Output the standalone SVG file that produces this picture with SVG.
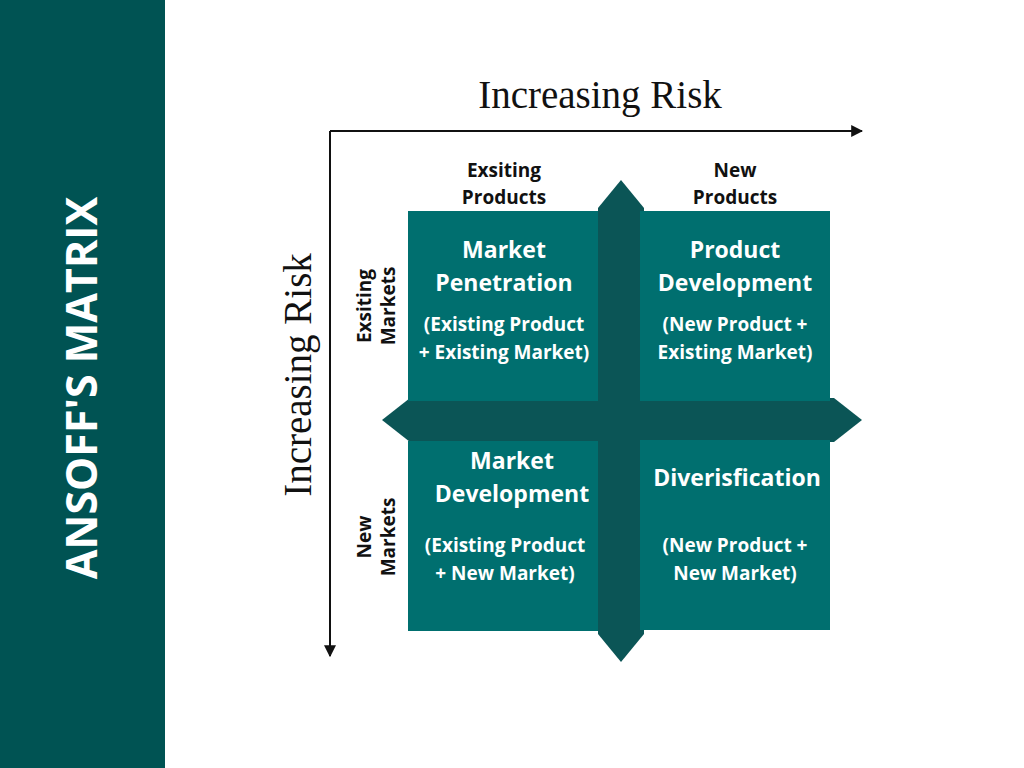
<svg xmlns="http://www.w3.org/2000/svg" width="1024" height="768" viewBox="0 0 1024 768">
<defs>
<style>
.q{fill:#006f6f}
.c{fill:#0b5556}
.t{font-family:"Open Sans","Liberation Sans",sans-serif;font-weight:bold;fill:#fff;text-anchor:middle}
.l{font-family:"Open Sans","Liberation Sans",sans-serif;font-weight:bold;fill:#111;text-anchor:middle;font-size:19px}
.s{font-family:"Liberation Serif",serif;fill:#111;font-size:39px;text-anchor:middle}
.ax{stroke:#111;stroke-width:2;fill:none}
</style>
<marker id="ah" viewBox="0 0 10 10" refX="9" refY="5" markerWidth="6" markerHeight="6" orient="auto"><path d="M0,0L10,5L0,10z" fill="#111"/></marker>
</defs>
<rect width="1024" height="768" fill="#fff"/>
<rect x="0" y="0" width="165" height="768" fill="#005353"/>
<text class="t" font-size="43" transform="translate(97,388) rotate(-90)">ANSOFF'S MATRIX</text>
<text class="s" x="600" y="108">Increasing Risk</text>
<text class="s" transform="translate(311,375) rotate(-90)">Increasing Risk</text>
<g id="connectors">
<path class="ax" d="M330,131H862" marker-end="url(#ah)"/>
<path class="ax" d="M330,131V656" marker-end="url(#ah)"/>
</g>
<g id="cross">
<polygon class="c" points="621,180 644,208 644,634 621,662 598,634 598,208"/>
<polygon class="c" points="382,420 410,398 834,398 862,420 834,442 410,442"/>
</g>
<text class="l" x="504" y="177">Exsiting</text>
<text class="l" x="504" y="204">Products</text>
<text class="l" x="735" y="177">New</text>
<text class="l" x="735" y="204">Products</text>
<text class="l" transform="translate(375,306) rotate(-90)" font-size="17"><tspan x="0" dy="-4">Exsiting</tspan><tspan x="0" dy="24">Markets</tspan></text>
<text class="l" transform="translate(375,537) rotate(-90)" font-size="17"><tspan x="0" dy="-4">New</tspan><tspan x="0" dy="24">Markets</tspan></text>
<g id="tl"><rect class="q" x="408" y="211" width="190" height="190"/>
<text class="t" font-size="23" x="504" y="258">Market</text><text class="t" font-size="23" x="504" y="291">Penetration</text>
<text class="t" font-size="19" x="504" y="331">(Existing Product</text><text class="t" font-size="19" x="504" y="359">+ Existing Market)</text></g>
<g id="tr"><rect class="q" x="640" y="211" width="190" height="190"/>
<text class="t" font-size="23" x="735" y="258">Product</text><text class="t" font-size="23" x="735" y="291">Development</text>
<text class="t" font-size="19" x="735" y="331">(New Product +</text><text class="t" font-size="19" x="735" y="359">Existing Market)</text></g>
<g id="bl"><rect class="q" x="408" y="441" width="190" height="190"/>
<text class="t" font-size="23" x="512" y="469">Market</text><text class="t" font-size="23" x="512" y="502">Development</text>
<text class="t" font-size="19" x="505" y="552">(Existing Product</text><text class="t" font-size="19" x="505" y="580">+ New Market)</text></g>
<g id="br"><rect class="q" x="640" y="440" width="190" height="190"/>
<text class="t" font-size="23" x="737" y="486">Diverisfication</text>
<text class="t" font-size="19" x="735" y="552">(New Product +</text><text class="t" font-size="19" x="735" y="580">New Market)</text></g>
</svg>
